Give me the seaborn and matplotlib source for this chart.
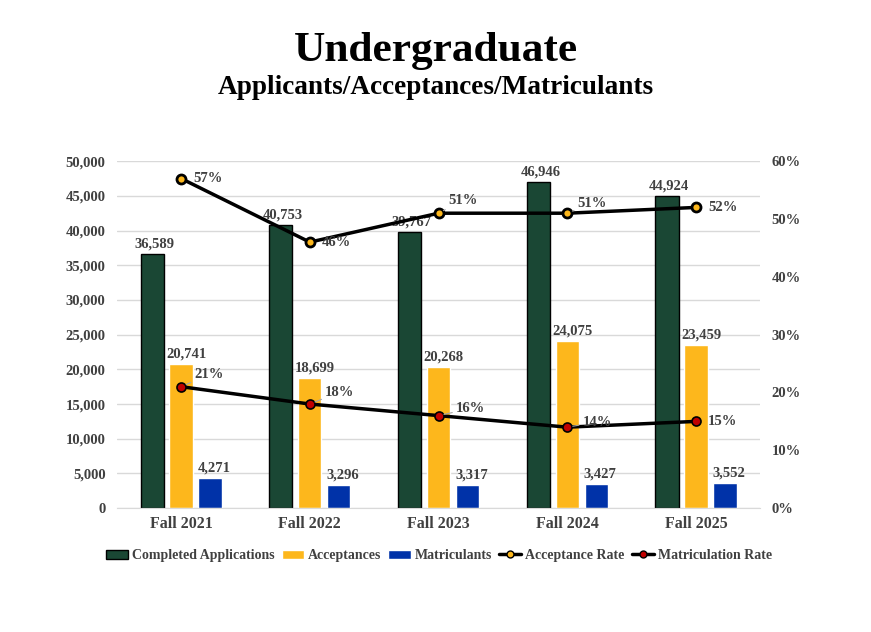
import numpy as np
import pandas as pd
import matplotlib
matplotlib.use("Agg")
import matplotlib.pyplot as plt
import matplotlib.ticker as mticker
from matplotlib.patches import Patch
from matplotlib.lines import Line2D
import seaborn as sns

# ── Data ──────────────────────────────────────────────────────────────────────
TERMS = ["Fall 2021", "Fall 2022", "Fall 2023", "Fall 2024", "Fall 2025"]
APPLICATIONS = [36589, 40753, 39767, 46946, 44924]
ACCEPTANCES = [20741, 18699, 20268, 24075, 23459]
MATRICULANTS = [4271, 3296, 3317, 3427, 3552]
ACCEPT_RATE = [57, 46, 51, 51, 52]
MATRIC_RATE = [21, 18, 16, 14, 15]

SERIES = ["Completed Applications", "Acceptances", "Matriculants"]
GREEN = "#1A4734"
GOLD = "#FDB71C"
BLUE = "#0032A8"
RED = "#C00000"
TEXT = "#404040"

# label offsets in pixels (dx, dy) for the rate labels
ACCEPT_OFFS = [(12, 0), (12, 0), (10, 13), (10, 10), (12, 0)]
MATRIC_OFFS = [(13, 12), (15, 12), (17, 7), (15, 5), (12, 0)]

sns.set_style("white")
plt.rcParams["font.family"] = ["Liberation Serif", "DejaVu Serif"]

df = pd.DataFrame({
    "term": TERMS * 3,
    "series": [s for s in SERIES for _ in TERMS],
    "value": APPLICATIONS + ACCEPTANCES + MATRICULANTS,
})

fig = plt.figure(figsize=(8.71, 6.32), dpi=100)
ax = fig.add_axes([0.134, 0.196, 0.739, 0.549])

sns.barplot(data=df, x="term", y="value", hue="series", order=TERMS,
            hue_order=SERIES, palette=[GREEN, GOLD, BLUE], width=0.675,
            gap=0.2, ax=ax, legend=False, saturation=1)

for bar in ax.containers[0]:
    bar.set_edgecolor("black")
    bar.set_linewidth(1.0)

ax.set_ylim(0, 50000)
ax.set_xlim(-0.5, 4.5)
ax.yaxis.set_major_locator(mticker.MultipleLocator(5000))
ax.yaxis.set_major_formatter(mticker.FuncFormatter(lambda v, p: f"{int(v):,}"))
ax.grid(axis="y", color="#D9D9D9", linewidth=1)
ax.set_axisbelow(True)
for side in ["top", "left", "right"]:
    ax.spines[side].set_visible(False)
ax.spines["bottom"].set_color("#D9D9D9")
ax.set_xlabel("")
ax.set_ylabel("")
ax.tick_params(axis="y", length=0, colors=TEXT, labelsize=10.5, pad=8)
ax.tick_params(axis="x", length=0, colors=TEXT, labelsize=11.5, pad=6)
for lbl in ax.get_xticklabels() + ax.get_yticklabels():
    lbl.set_fontweight("bold")

# bar labels
for cont, dx in zip(ax.containers, [2, 5, 4]):
    for bar in cont:
        h = bar.get_height()
        ax.annotate(f"{int(h):,}", (bar.get_x() + bar.get_width() / 2, h),
                    xytext=(dx, 4), textcoords="offset pixels", ha="center",
                    va="bottom", fontsize=10.5, fontweight="bold", color=TEXT)

# rate lines on secondary axis
ax2 = ax.twinx()
x = np.arange(len(TERMS))
ax2.plot(x, ACCEPT_RATE, color="black", linewidth=2.5, marker="o",
         markersize=6.5, markerfacecolor=GOLD, markeredgecolor="black",
         markeredgewidth=2, zorder=5)
ax2.plot(x, MATRIC_RATE, color="black", linewidth=2.5, marker="o",
         markersize=6.5, markerfacecolor=RED, markeredgecolor="black",
         markeredgewidth=1.2, zorder=5)
ax2.set_ylim(0, 60)
ax2.yaxis.set_major_locator(mticker.MultipleLocator(10))
ax2.yaxis.set_major_formatter(mticker.FuncFormatter(lambda v, p: f"{int(v)}%"))
ax2.tick_params(axis="y", length=0, colors=TEXT, labelsize=10.5, pad=8)
for lbl in ax2.get_yticklabels():
    lbl.set_fontweight("bold")
for side in ["top", "left", "right", "bottom"]:
    ax2.spines[side].set_visible(False)

for rates, offs in [(ACCEPT_RATE, ACCEPT_OFFS), (MATRIC_RATE, MATRIC_OFFS)]:
    for xi, r, (dx, dy) in zip(x, rates, offs):
        arrow = None
        if dy >= 5:
            arrow = dict(arrowstyle="-", color="#A6A6A6", lw=0.8,
                         shrinkA=0, shrinkB=4)
        ax2.annotate(f"{r}%", (xi, r), xytext=(dx, dy),
                     textcoords="offset pixels", va="center", ha="left",
                     fontsize=10.5, fontweight="bold", color=TEXT,
                     arrowprops=arrow, zorder=6)

# titles
fig.text(0.5, 0.904, "Undergraduate", ha="center", va="baseline",
         fontsize=31.2, fontweight="bold", color="black")
fig.text(0.5, 0.851, "Applicants/Acceptances/Matriculants", ha="center",
         va="baseline", fontsize=19.6, fontweight="bold", color="black")

# legend
handles = [
    Patch(facecolor=GREEN, edgecolor="black", label=SERIES[0]),
    Patch(facecolor=GOLD, label=SERIES[1]),
    Patch(facecolor=BLUE, label=SERIES[2]),
    Line2D([], [], color="black", linewidth=2.5, marker="o", markersize=5,
           markerfacecolor=GOLD, markeredgecolor="black", label="Acceptance Rate"),
    Line2D([], [], color="black", linewidth=2.5, marker="o", markersize=5,
           markerfacecolor=RED, markeredgecolor="black",
           label="Matriculation Rate"),
]
leg = fig.legend(handles=handles, loc="center", bbox_to_anchor=(0.504, 0.121),
                 ncol=5, frameon=False, fontsize=10, handlelength=1.6,
                 handleheight=0.6, handletextpad=0.3, columnspacing=0.5)
for t in leg.get_texts():
    t.set_fontweight("bold")
    t.set_color(TEXT)

fig.savefig("out.png", dpi=100)
